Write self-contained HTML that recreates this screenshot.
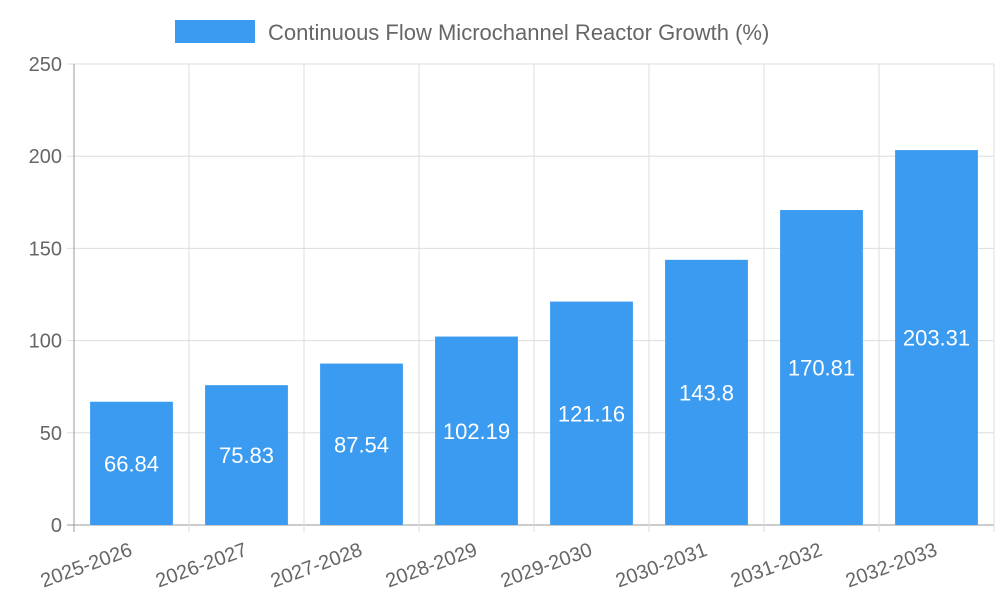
<!DOCTYPE html>
<html><head><meta charset="utf-8"><style>
body{margin:0;background:#fff;font-family:"Liberation Sans",sans-serif;}
svg text{font-family:"Liberation Sans",sans-serif;}
</style></head><body>
<svg id="chart" width="1000" height="600" viewBox="0 0 1000 600">
<g id="grid"></g><g id="bars"></g><g id="labels"></g>
<g>
<rect x="175" y="20" width="80" height="23" fill="#3a9bf0"/>
<text x="268" y="40" font-size="22" fill="#666">Continuous Flow Microchannel Reactor Growth (%)</text>
</g>
</svg>
<script>
const categories=["2025-2026","2026-2027","2027-2028","2028-2029","2029-2030","2030-2031","2031-2032","2032-2033"];
const values=[66.84,75.83,87.54,102.19,121.16,143.8,170.81,203.31];
const yTicks=[0,50,100,150,200,250];
const NS="http://www.w3.org/2000/svg";
const L=74,R=994,T=64,B=525,yMax=250;
const bw=(R-L)/categories.length;
const y=v=>B-(v/yMax)*(B-T);
const x=i=>L+i*bw;
function mk(tag,attrs,parent){const e=document.createElementNS(NS,tag);for(const k in attrs)e.setAttribute(k,attrs[k]);document.getElementById(parent).appendChild(e);return e;}
yTicks.forEach(t=>{
 const g=mk("line",{x1:L-7,x2:R,y1:y(t),y2:y(t),stroke:t===0?"#999":"#ddd","stroke-width":1},"grid");
 
 
 const tx=mk("text",{x:L-12,y:y(t)+7,"text-anchor":"end","font-size":20,fill:"#666"},"labels");
 tx.textContent=t;
 
 
});
for(let i=0;i<=categories.length;i++){
 const g=mk("line",{x1:x(i),x2:x(i),y1:T,y2:B+7,stroke:i===0?"#999":"#ddd","stroke-width":1},"grid");
 
 
}
categories.forEach((c,i)=>{
 const w=bw*0.72,bx=x(i)+(bw-w)/2,by=y(values[i]);
 const r=mk("rect",{x:bx,y:by,width:w,height:B-by,fill:"#3a9bf0"},"bars");
 
 
 const v=mk("text",{x:bx+w/2,y:(by+B)/2+8,"text-anchor":"middle","font-size":22,fill:"#fff"},"labels");
 v.textContent=values[i];
 
 
 const cx=x(i)+bw/2;
 const t=mk("text",{x:cx+2,y:B+30,"text-anchor":"end","font-size":20,fill:"#666",transform:`rotate(-20 ${cx+2} ${B+30})`},"labels");
 t.textContent=c;
 
 
});
</script>
</body></html>
